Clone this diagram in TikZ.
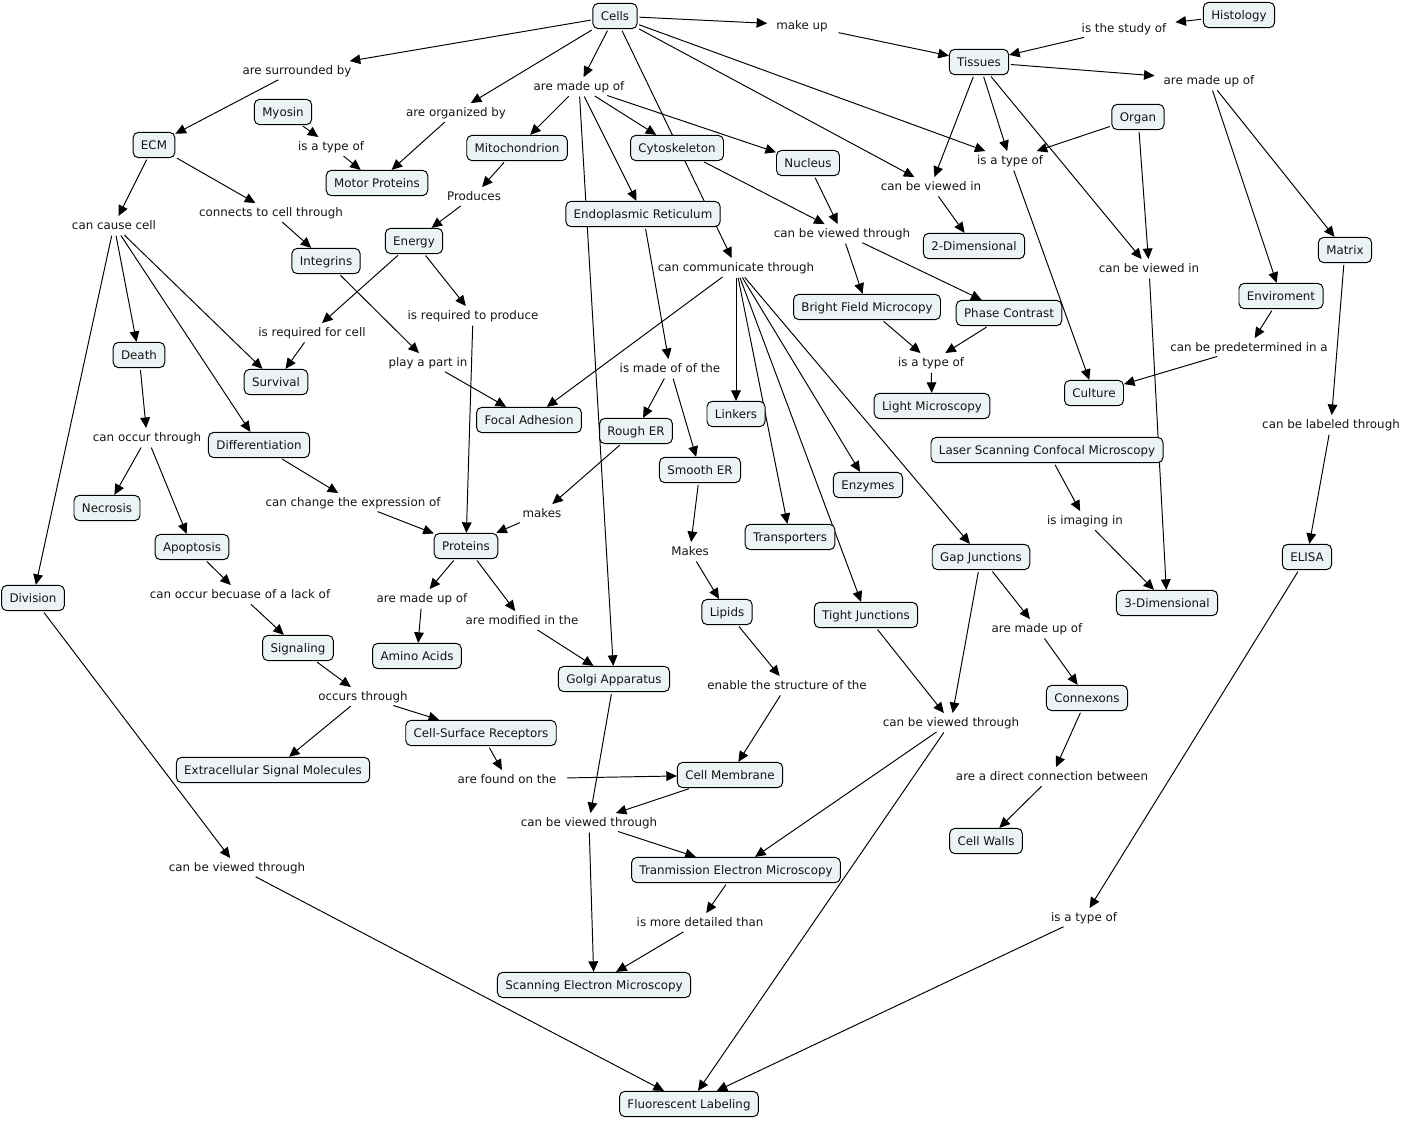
\documentclass[tikz,border=0pt]{standalone}
\usepackage{fontspec}
\setmainfont{DejaVu Sans}
\usetikzlibrary{arrows.meta}
\pgfdeclarelayer{bg}
\pgfsetlayers{bg,main}
\definecolor{cfill}{RGB}{236,243,245}
\definecolor{txt}{RGB}{20,20,20}
\begin{document}
\begin{tikzpicture}[x=0.02cm,y=-0.02cm,
  concept/.style={draw=black, line width=0.55pt, fill=cfill, rounded corners=3pt,
    font=\fontsize{6.75}{8}\selectfont, text=txt, inner xsep=4.5pt, inner ysep=3.8pt,
    text height=5.8pt, text depth=1.0pt},
  phrase/.style={font=\fontsize{6.75}{8}\selectfont, text=txt, inner xsep=5pt, inner ysep=1.5pt,
    text height=5.8pt, text depth=1.0pt},
  link/.style={line width=0.55pt, draw=black, -{Triangle[length=6pt,width=5.5pt]}, shorten <=1pt}]
\useasboundingbox (0,0) rectangle (1403,1120);
% concepts
\node[concept] (cells) at (615,16) {Cells};
\node[concept] (tissues) at (979,62) {Tissues};
\node[concept] (histology) at (1239,15) {Histology};
\node[concept] (ecm) at (154,145) {ECM};
\node[concept] (myosin) at (283,112) {Myosin};
\node[concept] (motor) at (377,183) {Motor Proteins};
\node[concept] (mito) at (517,148) {Mitochondrion};
\node[concept] (cyto) at (677,148) {Cytoskeleton};
\node[concept] (nucleus) at (808,163) {Nucleus};
\node[concept] (organ) at (1138,117) {Organ};
\node[concept] (energy) at (414,241) {Energy};
\node[concept] (integrins) at (326,261) {Integrins};
\node[concept] (er) at (643,214) {Endoplasmic Reticulum};
\node[concept] (twod) at (974,246) {2-Dimensional};
\node[concept] (matrix) at (1345,250) {Matrix};
\node[concept] (bright) at (867,307) {Bright Field Microcopy};
\node[concept] (phase) at (1009,313) {Phase Contrast};
\node[concept] (envir) at (1281,296) {Enviroment};
\node[concept] (death) at (139,355) {Death};
\node[concept] (survival) at (276,382) {Survival};
\node[concept] (focal) at (529,420) {Focal Adhesion};
\node[concept] (linkers) at (736,414) {Linkers};
\node[concept] (light) at (932,406) {Light Microscopy};
\node[concept] (culture) at (1094,393) {Culture};
\node[concept] (rough) at (636,431) {Rough ER};
\node[concept] (laser) at (1047,450) {Laser Scanning Confocal Microscopy};
\node[concept] (diff) at (259,445) {Differentiation};
\node[concept] (necrosis) at (107,508) {Necrosis};
\node[concept] (smooth) at (700,470) {Smooth ER};
\node[concept] (enzymes) at (868,485) {Enzymes};
\node[concept] (proteins) at (466,546) {Proteins};
\node[concept] (apoptosis) at (192,547) {Apoptosis};
\node[concept] (transporters) at (790,537) {Transporters};
\node[concept] (gap) at (981,557) {Gap Junctions};
\node[concept] (elisa) at (1307,557) {ELISA};
\node[concept] (division) at (33,598) {Division};
\node[concept] (threed) at (1167,603) {3-Dimensional};
\node[concept] (lipids) at (727,612) {Lipids};
\node[concept] (tight) at (866,615) {Tight Junctions};
\node[concept] (signaling) at (298,648) {Signaling};
\node[concept] (amino) at (417,656) {Amino Acids};
\node[concept] (golgi) at (614,679) {Golgi Apparatus};
\node[concept] (connexons) at (1087,698) {Connexons};
\node[concept] (csr) at (481,733) {Cell-Surface Receptors};
\node[concept] (esm) at (273,770) {Extracellular Signal Molecules};
\node[concept] (membrane) at (730,775) {Cell Membrane};
\node[concept] (walls) at (986,841) {Cell Walls};
\node[concept] (tem) at (736,870) {Tranmission Electron Microscopy};
\node[concept] (sem) at (594,985) {Scanning Electron Microscopy};
\node[concept] (fluor) at (689,1104) {Fluorescent Labeling};
% linking phrases
\node[phrase] (lMakeup) at (802,25) {make up};
\node[phrase] (lStudy) at (1124,28) {is the study of};
\node[phrase] (lSurr) at (297,70) {are surrounded by};
\node[phrase] (lCmade) at (579,86) {are made up of};
\node[phrase] (lOrg) at (456,112) {are organized by};
\node[phrase] (lTmade) at (1209,80) {are made up of};
\node[phrase] (lMtype) at (331,146) {is a type of};
\node[phrase] (lProd) at (474,196) {Produces};
\node[phrase] (lTtype) at (1010,160) {is a type of};
\node[phrase] (lVtwod) at (931,186) {can be viewed in};
\node[phrase] (lConn) at (271,212) {connects to cell through};
\node[phrase] (lCause) at (114,225) {can cause cell};
\node[phrase] (lVnuc) at (842,233) {can be viewed through};
\node[phrase] (lComm) at (736,267) {can communicate through};
\node[phrase] (lVthreed) at (1149,268) {can be viewed in};
\node[phrase] (lReqprod) at (473,315) {is required to produce};
\node[phrase] (lReqcell) at (312,332) {is required for cell};
\node[phrase] (lPred) at (1249,347) {can be predetermined in a};
\node[phrase] (lPart) at (428,362) {play a part in};
\node[phrase] (lLtype) at (931,362) {is a type of};
\node[phrase] (lMadeof) at (670,368) {is made of of the};
\node[phrase] (lLabel) at (1331,424) {can be labeled through};
\node[phrase] (lOccur) at (147,437) {can occur through};
\node[phrase] (lChange) at (353,502) {can change the expression of};
\node[phrase] (lMakes) at (542,513) {makes};
\node[phrase] (lImaging) at (1085,520) {is imaging in};
\node[phrase] (lMakesB) at (690,551) {Makes};
\node[phrase] (lLack) at (240,594) {can occur becuase of a lack of};
\node[phrase] (lPmade) at (422,598) {are made up of};
\node[phrase] (lModif) at (522,620) {are modified in the};
\node[phrase] (lGmade) at (1037,628) {are made up of};
\node[phrase] (lEnable) at (787,685) {enable the structure of the};
\node[phrase] (lOccurs) at (363,696) {occurs through};
\node[phrase] (lVtight) at (951,722) {can be viewed through};
\node[phrase] (lFound) at (507,779) {are found on the};
\node[phrase] (lDirect) at (1052,776) {are a direct connection between};
\node[phrase] (lVgolgi) at (589,822) {can be viewed through};
\node[phrase] (lVdiv) at (237,867) {can be viewed through};
\node[phrase] (lDetail) at (700,922) {is more detailed than};
\node[phrase] (lEtype) at (1084,917) {is a type of};
% connectors
\begin{pgfonlayer}{bg}
\foreach \a/\b in {cells/lSurr, lSurr/ecm, cells/lOrg, lOrg/motor, myosin/lMtype, lMtype/motor,
  cells/lCmade, lCmade/mito, lCmade/er, lCmade/cyto, lCmade/nucleus, lCmade/golgi,
  cells/lComm, cells/lMakeup, lMakeup/tissues, histology/lStudy, lStudy/tissues,
  tissues/lTmade, lTmade/envir, lTmade/matrix,
  cells/lTtype, tissues/lTtype, organ/lTtype, lTtype/culture,
  cells/lVtwod, tissues/lVtwod, lVtwod/twod,
  tissues/lVthreed, organ/lVthreed, lVthreed/threed,
  envir/lPred, lPred/culture, matrix/lLabel, lLabel/elisa, elisa/lEtype, lEtype/fluor,
  laser/lImaging, lImaging/threed,
  cyto/lVnuc, nucleus/lVnuc, lVnuc/bright, lVnuc/phase,
  bright/lLtype, phase/lLtype, lLtype/light,
  mito/lProd, lProd/energy, ecm/lCause, ecm/lConn, lConn/integrins,
  integrins/lPart, lPart/focal, energy/lReqcell, energy/lReqprod, lReqcell/survival, lReqprod/proteins,
  lCause/death, lCause/survival, lCause/diff, lCause/division,
  death/lOccur, lOccur/necrosis, lOccur/apoptosis, diff/lChange, lChange/proteins,
  apoptosis/lLack, lLack/signaling, signaling/lOccurs, lOccurs/esm, lOccurs/csr,
  csr/lFound, lFound/membrane, proteins/lPmade, lPmade/amino, proteins/lModif, lModif/golgi,
  golgi/lVgolgi, membrane/lVgolgi, lVgolgi/sem, lVgolgi/tem, tem/lDetail, lDetail/sem,
  division/lVdiv, lVdiv/fluor,
  lComm/focal, lComm/linkers, lComm/transporters, lComm/enzymes, lComm/tight, lComm/gap,
  er/lMadeof, lMadeof/rough, lMadeof/smooth, rough/lMakes, lMakes/proteins,
  smooth/lMakesB, lMakesB/lipids, lipids/lEnable, lEnable/membrane,
  tight/lVtight, gap/lVtight, lVtight/tem, lVtight/fluor,
  gap/lGmade, lGmade/connexons, connexons/lDirect, lDirect/walls}
  \draw[link] (\a) -- (\b);
\end{pgfonlayer}
\end{tikzpicture}
\end{document}
